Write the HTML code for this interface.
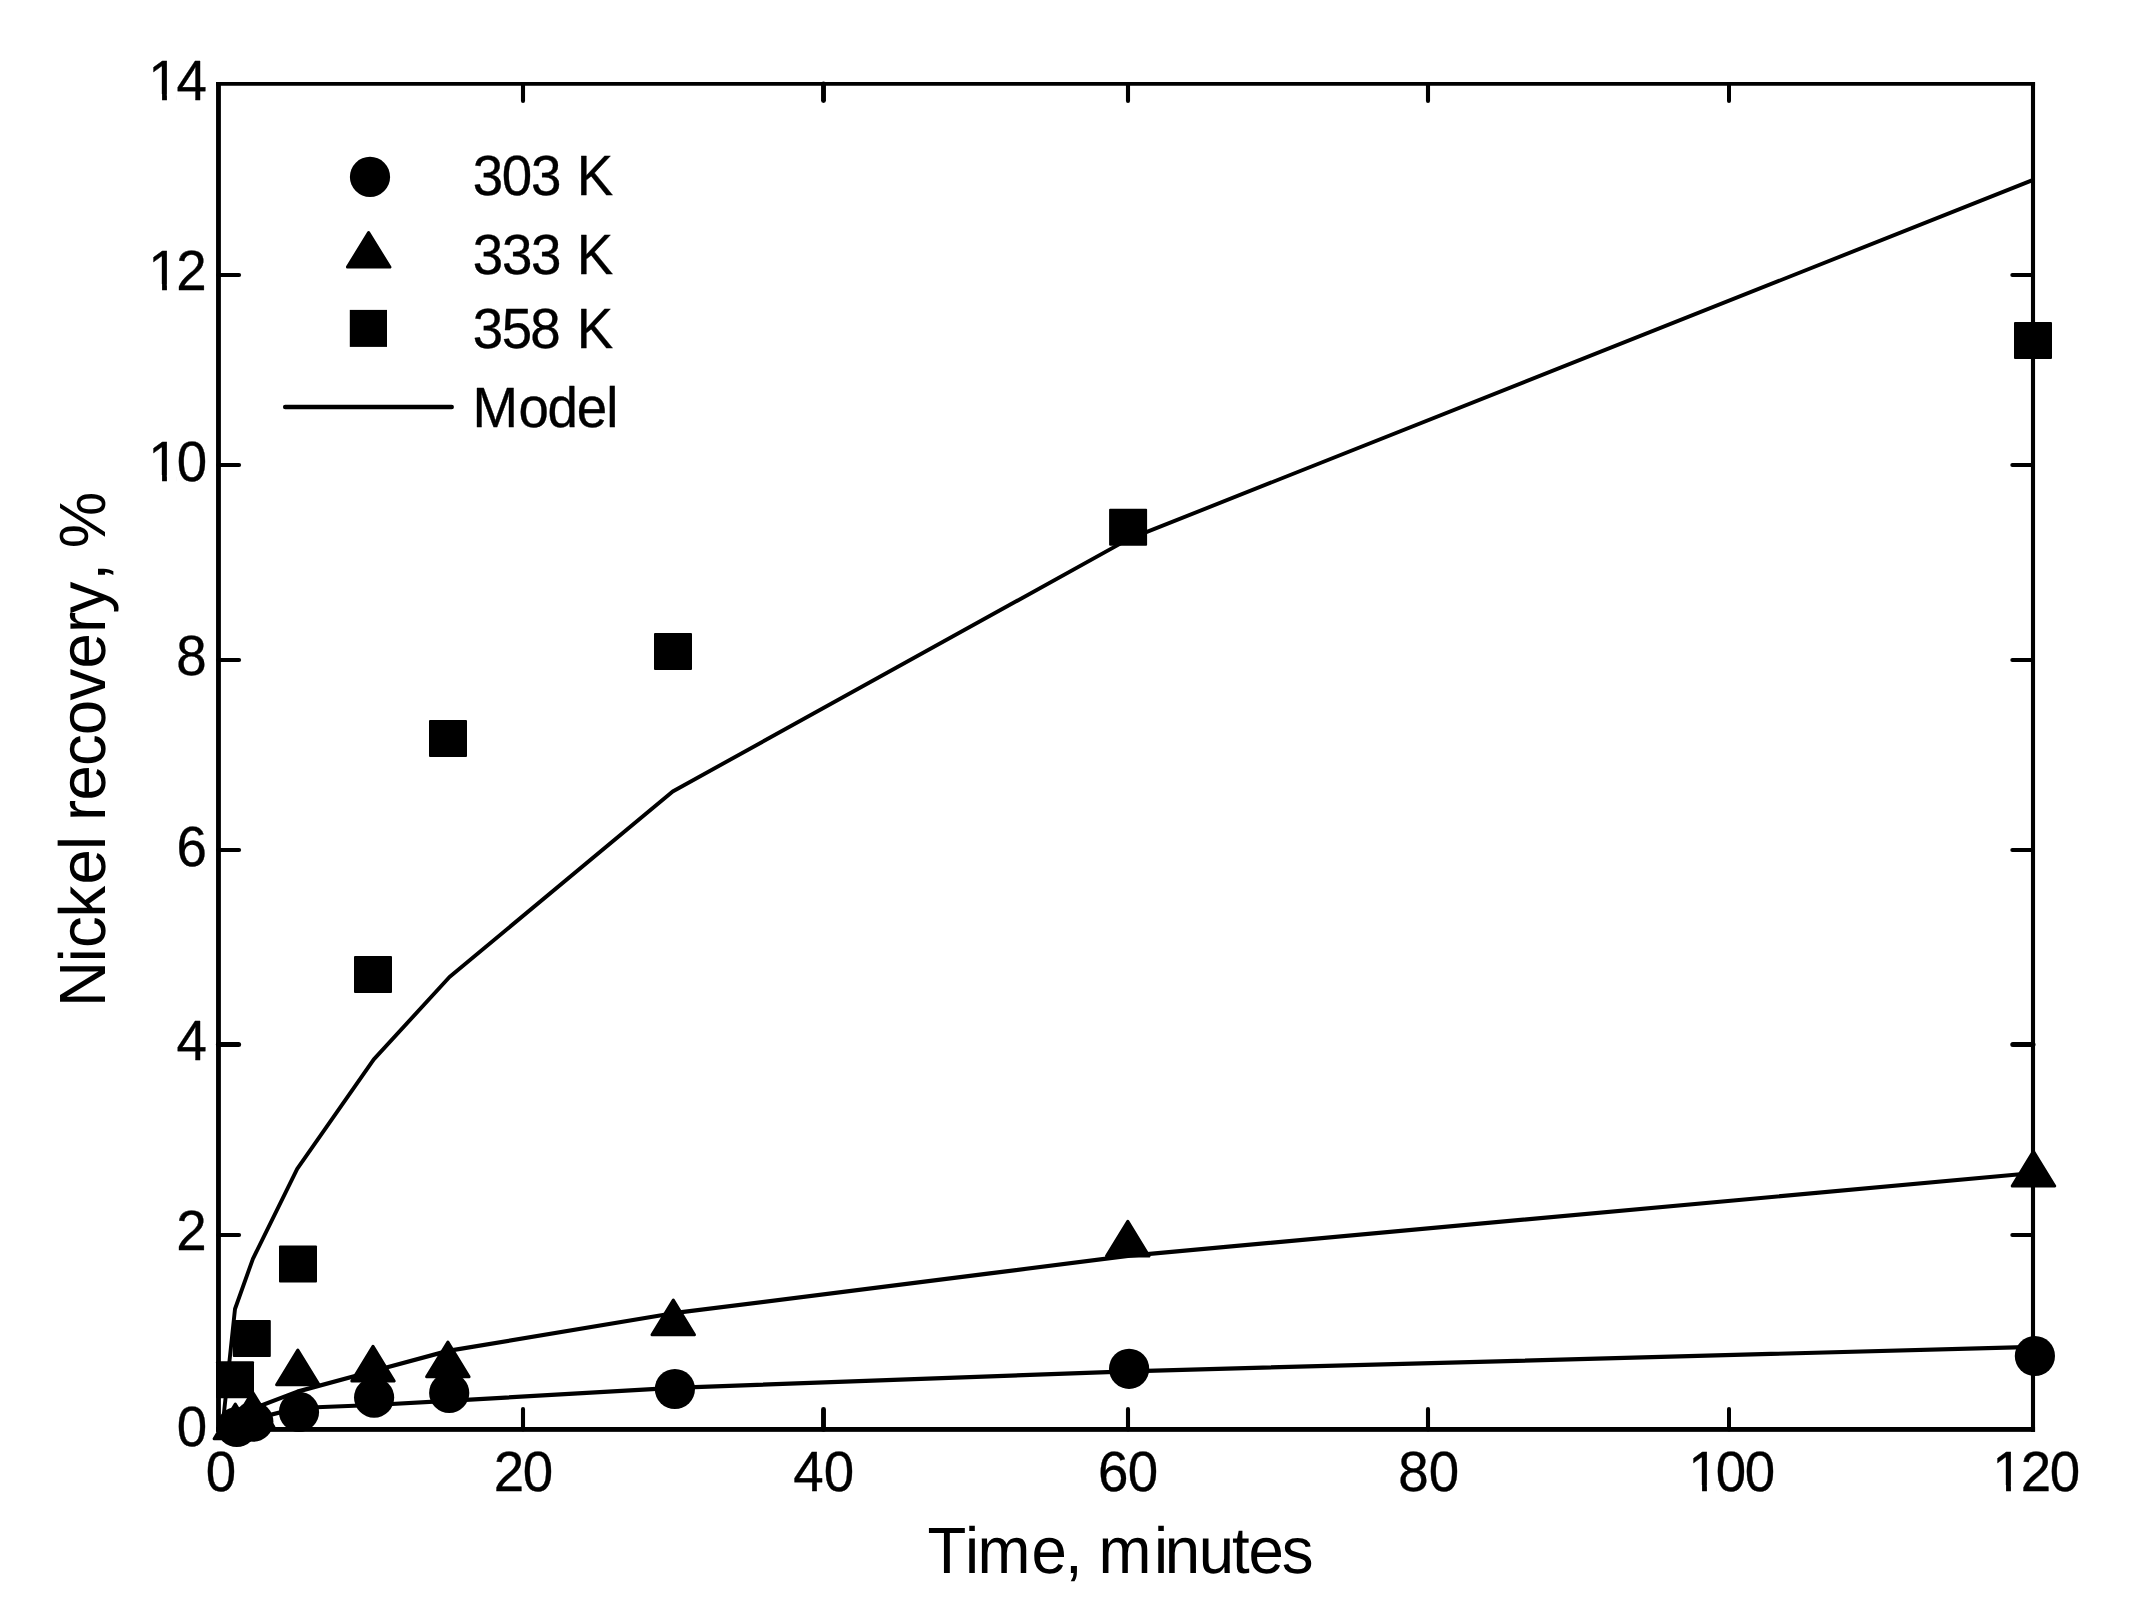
<!DOCTYPE html>
<html lang="en"><head><meta charset="utf-8"><title>Nickel recovery vs time</title>
<style>html,body{margin:0;padding:0;background:#fff}body{width:2134px;height:1615px;overflow:hidden}svg{display:block}</style>
</head><body>
<svg width="2134" height="1615" viewBox="0 0 2134 1615" font-family='"Liberation Sans", Arial, Helvetica, sans-serif' fill="#000" text-rendering="geometricPrecision">
<rect x="0" y="0" width="2134" height="1615" fill="#fff"/>
<g id="yticklabels">
<text transform="translate(0,100) scale(0.965,1)" font-size="56.7" stroke="#000" stroke-width="0.35" stroke-linejoin="round" x="153.70 182.86">14</text>
<rect x="151.69" y="93.96" width="10.39" height="7.04" fill="#fff"/>
<rect x="166.92" y="93.96" width="9.97" height="7.04" fill="#fff"/>
<text transform="translate(0,290) scale(0.965,1)" font-size="56.7" stroke="#000" stroke-width="0.35" stroke-linejoin="round" x="153.70 182.58">12</text>
<rect x="151.69" y="283.96" width="10.39" height="7.04" fill="#fff"/>
<rect x="166.92" y="283.96" width="9.97" height="7.04" fill="#fff"/>
<text transform="translate(0,481) scale(0.965,1)" font-size="56.7" stroke="#000" stroke-width="0.35" stroke-linejoin="round" x="153.70 183.20">10</text>
<rect x="151.69" y="474.96" width="10.39" height="7.04" fill="#fff"/>
<rect x="166.92" y="474.96" width="9.97" height="7.04" fill="#fff"/>
<text transform="translate(0,675) scale(0.965,1)" font-size="56.7" stroke="#000" stroke-width="0.35" stroke-linejoin="round" x="182.68">8</text>
<text transform="translate(0,866) scale(0.965,1)" font-size="56.7" stroke="#000" stroke-width="0.35" stroke-linejoin="round" x="183.00">6</text>
<text transform="translate(0,1060) scale(0.965,1)" font-size="56.7" stroke="#000" stroke-width="0.35" stroke-linejoin="round" x="182.86">4</text>
<text transform="translate(0,1250) scale(0.965,1)" font-size="56.7" stroke="#000" stroke-width="0.35" stroke-linejoin="round" x="182.58">2</text>
<text transform="translate(0,1445.5) scale(0.965,1)" font-size="56.7" stroke="#000" stroke-width="0.35" stroke-linejoin="round" x="183.20">0</text>
</g>
<g id="xticklabels">
<text transform="translate(0,1491) scale(0.965,1)" font-size="56.7" stroke="#000" stroke-width="0.35" stroke-linejoin="round" x="213.14">0</text>
<text transform="translate(0,1491) scale(0.965,1)" font-size="56.7" stroke="#000" stroke-width="0.35" stroke-linejoin="round" x="511.54 541.69">20</text>
<text transform="translate(0,1491) scale(0.965,1)" font-size="56.7" stroke="#000" stroke-width="0.35" stroke-linejoin="round" x="822.08 853.61">40</text>
<text transform="translate(0,1491) scale(0.965,1)" font-size="56.7" stroke="#000" stroke-width="0.35" stroke-linejoin="round" x="1137.82 1168.74">60</text>
<text transform="translate(0,1491) scale(0.965,1)" font-size="56.7" stroke="#000" stroke-width="0.35" stroke-linejoin="round" x="1448.90 1480.61">80</text>
<text transform="translate(0,1491) scale(0.965,1)" font-size="56.7" stroke="#000" stroke-width="0.35" stroke-linejoin="round" x="1749.56 1777.91 1808.07">100</text>
<rect x="1691.69" y="1484.96" width="10.39" height="7.04" fill="#fff"/>
<rect x="1706.92" y="1484.96" width="9.97" height="7.04" fill="#fff"/>
<text transform="translate(0,1491) scale(0.965,1)" font-size="56.7" stroke="#000" stroke-width="0.35" stroke-linejoin="round" x="2064.58 2094.08 2124.13">120</text>
<rect x="1995.69" y="1484.96" width="10.39" height="7.04" fill="#fff"/>
<rect x="2010.92" y="1484.96" width="9.97" height="7.04" fill="#fff"/>
</g>
<g id="models" fill="none" stroke="#000" stroke-linejoin="round" stroke-linecap="butt">
<polyline stroke-width="3.9" points="222.2,1429.5 235.0,1309.0 252.9,1258.8 297.2,1168.9 373.8,1059.4 449.5,977.0 672.7,791.5 1128.0,539.4 2033.2,179.9"/>
<polyline stroke-width="4.2" points="222.2,1429.5 234.0,1416.0 252.4,1408.9 297.5,1391.6 373.5,1371.0 448.0,1350.9 673.5,1313.2 1128.0,1255.9 2034.0,1173.0"/>
<polyline stroke-width="4.2" points="222.2,1429.5 233.8,1424.0 252.4,1419.4 297.5,1408.0 373.5,1405.0 448.0,1400.9 674.0,1387.8 1128.5,1371.3 2034.0,1346.8"/>
</g>
<g id="data">
<circle cx="236.8" cy="1427.0" r="20.1"/>
<circle cx="253.3" cy="1421.6" r="20.1"/>
<circle cx="299.0" cy="1411.9" r="20.1"/>
<circle cx="374.1" cy="1397.6" r="20.1"/>
<circle cx="449.2" cy="1392.9" r="20.1"/>
<circle cx="674.9" cy="1389.0" r="20.1"/>
<circle cx="1129.1" cy="1368.8" r="20.1"/>
<circle cx="2034.9" cy="1356.0" r="20.1"/>
<polygon points="235.3,1404.0 256.6,1438.7 214.1,1438.7" stroke="#000" stroke-width="3" stroke-linejoin="round"/>
<polygon points="252.5,1392.0 273.8,1426.7 231.2,1426.7" stroke="#000" stroke-width="3" stroke-linejoin="round"/>
<polygon points="297.8,1350.0 319.1,1384.7 276.6,1384.7" stroke="#000" stroke-width="3" stroke-linejoin="round"/>
<polygon points="373.0,1346.3 394.2,1381.0 351.8,1381.0" stroke="#000" stroke-width="3" stroke-linejoin="round"/>
<polygon points="447.9,1342.1 469.1,1376.8 426.6,1376.8" stroke="#000" stroke-width="3" stroke-linejoin="round"/>
<polygon points="673.3,1300.0 694.5,1334.7 652.0,1334.7" stroke="#000" stroke-width="3" stroke-linejoin="round"/>
<polygon points="1127.8,1221.4 1149.0,1256.1 1106.5,1256.1" stroke="#000" stroke-width="3" stroke-linejoin="round"/>
<polygon points="2033.4,1151.3 2054.7,1186.0 2012.2,1186.0" stroke="#000" stroke-width="3" stroke-linejoin="round"/>
<rect x="216.0" y="1361.2" width="38" height="37" rx="1" ry="1"/>
<rect x="232.8" y="1320.0" width="38" height="37" rx="1" ry="1"/>
<rect x="279.0" y="1245.5" width="38" height="37" rx="1" ry="1"/>
<rect x="354.0" y="956.0" width="38" height="37" rx="1" ry="1"/>
<rect x="429.0" y="719.9" width="38" height="37" rx="1" ry="1"/>
<rect x="654.0" y="632.9" width="38" height="37" rx="1" ry="1"/>
<rect x="1109.1" y="508.8" width="38" height="37" rx="1" ry="1"/>
<rect x="2014.0" y="322.1" width="38" height="37" rx="1" ry="1"/>
</g>
<g id="axes" stroke="none" fill="#000">
<rect x="216.05" y="82.0" width="4.85" height="1349.85"/>
<rect x="2030.95" y="82.0" width="4.10" height="1349.85"/>
<rect x="216.05" y="82.0" width="1819.00" height="3.75"/>
<rect x="216.05" y="1427.0" width="1819.00" height="4.85"/>
</g>
<g id="ticks" fill="none" stroke="#000" stroke-linecap="round">
<line x1="523" y1="1429.4" x2="523" y2="1409.05" stroke-width="4.1"/>
<line x1="523" y1="84.0" x2="523" y2="100.95" stroke-width="4.1"/>
<line x1="823.5" y1="1429.4" x2="823.5" y2="1409.45" stroke-width="4.9"/>
<line x1="823.5" y1="84.0" x2="823.5" y2="100.55" stroke-width="4.9"/>
<line x1="1128" y1="1429.4" x2="1128" y2="1409.05" stroke-width="4.1"/>
<line x1="1128" y1="84.0" x2="1128" y2="100.95" stroke-width="4.1"/>
<line x1="1428" y1="1429.4" x2="1428" y2="1409.05" stroke-width="4.1"/>
<line x1="1428" y1="84.0" x2="1428" y2="100.95" stroke-width="4.1"/>
<line x1="1729" y1="1429.4" x2="1729" y2="1409.00" stroke-width="4.0"/>
<line x1="1729" y1="84.0" x2="1729" y2="101.00" stroke-width="4.0"/>
<line x1="218.4" y1="275" x2="239.10" y2="275" stroke-width="4.0"/>
<line x1="2033.0" y1="275" x2="2012.30" y2="275" stroke-width="4.0"/>
<line x1="218.4" y1="465" x2="239.10" y2="465" stroke-width="4.0"/>
<line x1="2033.0" y1="465" x2="2012.30" y2="465" stroke-width="4.0"/>
<line x1="218.4" y1="660" x2="239.10" y2="660" stroke-width="4.0"/>
<line x1="2033.0" y1="660" x2="2012.30" y2="660" stroke-width="4.0"/>
<line x1="218.4" y1="850" x2="239.10" y2="850" stroke-width="4.0"/>
<line x1="2033.0" y1="850" x2="2012.30" y2="850" stroke-width="4.0"/>
<line x1="218.4" y1="1044.5" x2="238.60" y2="1044.5" stroke-width="5.0"/>
<line x1="2033.0" y1="1044.5" x2="2012.80" y2="1044.5" stroke-width="5.0"/>
<line x1="218.4" y1="1235" x2="239.10" y2="1235" stroke-width="4.0"/>
<line x1="2033.0" y1="1235" x2="2012.30" y2="1235" stroke-width="4.0"/>
</g>
<g id="legend">
<circle cx="370.0" cy="176.9" r="20.1"/>
<polygon points="368.6,232.5 389.9,267.1 347.4,267.1" stroke="#000" stroke-width="3" stroke-linejoin="round"/>
<rect x="349.8" y="309.9" width="37.2" height="37" />
<line x1="285.2" y1="406.9" x2="451.7" y2="406.9" stroke="#000" stroke-width="4.5" stroke-linecap="round"/>
<text transform="translate(0,195) scale(0.965,1)" font-size="56.7" stroke="#000" stroke-width="0.35" stroke-linejoin="round" x="490.00 519.88 550.25 581.79 597.74">303 K</text>
<text transform="translate(0,274) scale(0.965,1)" font-size="56.7" stroke="#000" stroke-width="0.35" stroke-linejoin="round" x="490.00 520.15 550.25 581.79 597.74">333 K</text>
<text transform="translate(0,348) scale(0.965,1)" font-size="56.7" stroke="#000" stroke-width="0.35" stroke-linejoin="round" x="490.00 520.04 549.47 581.00 597.74">358 K</text>
<text transform="translate(0,427) scale(0.965,1)" font-size="56.7" stroke="#000" stroke-width="0.35" stroke-linejoin="round" x="489.75 537.39 567.25 597.66 628.35">Model</text>
</g>
<text transform="translate(0,1572.7) scale(0.972,1)" font-size="65.4" x="954.22 992.75 1005.67 1061.15 1095.80 1113.97 1130.10 1187.20 1198.38 1233.40 1267.46 1284.35 1318.70">Time, minutes</text>
<text transform="translate(105.2,1007) rotate(-90) scale(0.972,1)" font-size="65.4" x="-0.02 46.15 60.75 92.05 126.01 161.65 176.18 191.34 212.38 247.94 279.55 315.29 348.34 384.81 404.83 438.60 456.77 471.95">Nickel recovery, %</text>
</svg>
</body></html>
